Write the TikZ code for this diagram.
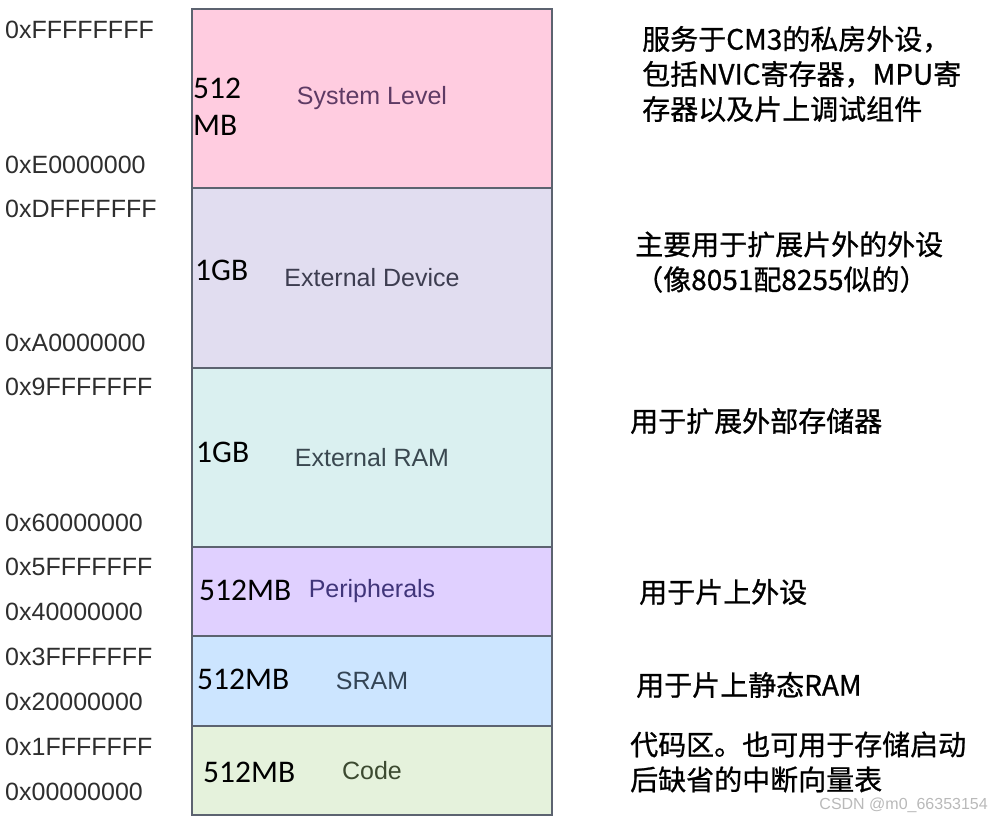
\documentclass[tikz,border=0pt]{standalone}
\usepackage{fontspec}
\setmainfont{Liberation Sans}
\newfontfamily\cjkfont[FakeBold=0.8]{Noto Sans CJK SC}
\newfontfamily\calibfont{Carlito}
\usetikzlibrary{positioning}
\definecolor{boxline}{HTML}{5C6370}
\definecolor{addrgray}{HTML}{2E2E2E}
\definecolor{sysfill}{HTML}{FFCCE0}
\definecolor{systext}{HTML}{5E3A64}
\definecolor{devfill}{HTML}{E1DDF0}
\definecolor{devtext}{HTML}{3D3D50}
\definecolor{xramfill}{HTML}{DAF0F0}
\definecolor{xramtext}{HTML}{3A4850}
\definecolor{perifill}{HTML}{E0D0FF}
\definecolor{peritext}{HTML}{40357A}
\definecolor{sramfill}{HTML}{CCE5FF}
\definecolor{sramtext}{HTML}{334455}
\definecolor{codefill}{HTML}{E5F2DC}
\definecolor{codetext}{HTML}{3C4A30}

\begin{document}
\begin{tikzpicture}[x=1pt,y=-1pt,
        region/.style={rectangle, draw=boxline, line width=1.2pt, outer sep=0pt, inner sep=0pt,
            minimum width=360pt, font=\fontsize{25}{30}\selectfont},
        addr/.style={anchor=west, inner sep=0pt, text=addrgray, font=\fontsize{25}{30}\selectfont},
        size/.style={anchor=west, inner sep=0pt, align=left, font=\calibfont\fontsize{31.5}{37}\selectfont},
        note/.style={anchor=west, inner sep=0pt, align=left, font=\cjkfont\fontsize{28}{35}\selectfont}]
    \useasboundingbox (0,0) rectangle (1004,823);

    % memory map, top to bottom
    \node[region, fill=sysfill, text=systext, minimum height=179pt] (sys) at (372,98.5) {System Level};
    \node[region, fill=devfill, text=devtext, minimum height=180pt, below=0pt of sys] (dev) {External Device};
    \node[region, fill=xramfill, text=xramtext, minimum height=179pt, below=0pt of dev] (xram) {External RAM};
    \node[region, fill=perifill, text=peritext, minimum height=89pt, below=0pt of xram] (peri) {Peripherals};
    \node[region, fill=sramfill, text=sramtext, minimum height=90pt, below=0pt of peri] (sram) {SRAM};
    \node[region, fill=codefill, text=codetext, minimum height=89pt, below=0pt of sram] (code) {Code};

    % sizes
    \node[size] (syssize) at (193,107) {512\\MB};
    \node[size] (devsize) at (195,270) {1GB};
    \node[size] (xramsize) at (196,452) {1GB};
    \node[size] (perisize) at (199,590) {512MB};
    \node[size] (sramsize) at (197,679) {512MB};
    \node[size] (codesize) at (203,772) {512MB};

    % addresses
    \foreach \addr/\ypos in {FFFFFFFF/30, E0000000/165, DFFFFFFF/209, A0000000/343,
                             9FFFFFFF/387, 60000000/523, 5FFFFFFF/567, 40000000/612,
                             3FFFFFFF/657, 20000000/702, 1FFFFFFF/747, 00000000/792}
        \node[addr] (a\addr) at (5,\ypos) {0x\addr};

    % notes
    \node[note] (sysnote) at (642,74) {服务于CM3的私房外设，\\包括NVIC寄存器，MPU寄\\存器以及片上调试组件};
    \node[note] (devnote) at (635,262) {主要用于扩展片外的外设\\（像8051配8255似的）};
    \node[note] (xramnote) at (630,421) {用于扩展外部存储器};
    \node[note] (perinote) at (639,592) {用于片上外设};
    \node[note] (sramnote) at (636,685) {用于片上静态RAM};
    \node[note] (codenote) at (630,762) {代码区。也可用于存储启动\\后缺省的中断向量表};

    \node[anchor=east, inner sep=0pt, text=gray!55, font=\fontsize{16}{19}\selectfont] (wm) at (988,805) {CSDN @m0\_66353154};
\end{tikzpicture}
\end{document}
